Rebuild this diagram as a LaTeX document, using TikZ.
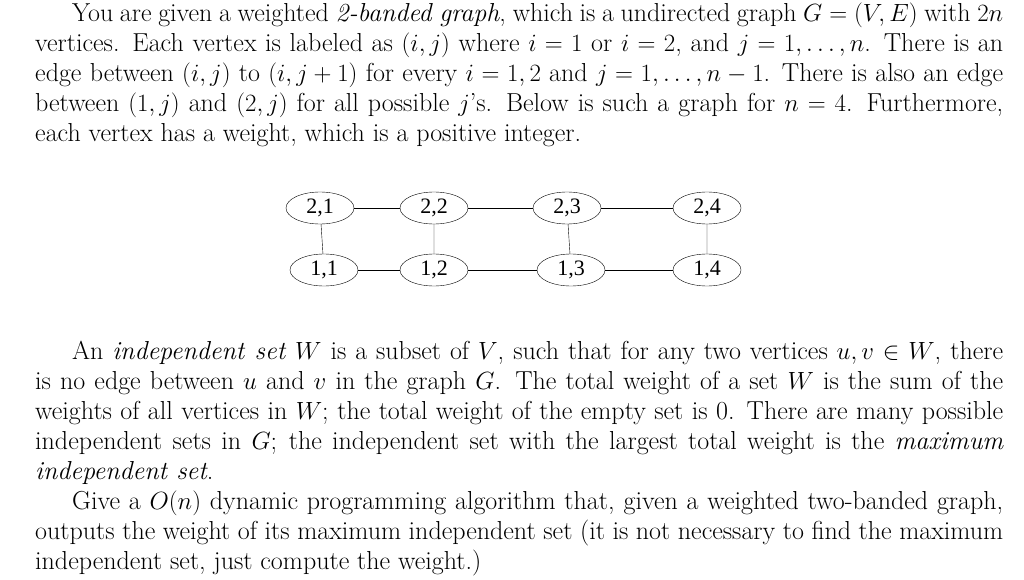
\documentclass[tikz,border=0pt]{standalone}
\usepackage{fontspec}
\newfontfamily\gfont{Liberation Serif}
\usetikzlibrary{shapes.geometric}
\begin{document}
\begin{tikzpicture}[x=1pt,y=1pt,
  vtx/.style={draw,ellipse,minimum width=68pt,minimum height=32pt,inner sep=0pt,font=\gfont\fontsize{22}{24}\selectfont},
  para/.style={anchor=north west,text width=968pt,inner sep=0pt,align=justify,font=\fontsize{26}{30}\selectfont}]
\useasboundingbox (0,0) rectangle (1024,-580);
\node[para] (p1) at (35,-3) {\hspace*{37pt}You are given a weighted \emph{2-banded graph}, which is a undirected graph $G=(V,E)$ with $2n$\linebreak vertices. Each vertex is labeled as $(i,j)$ where $i=1$ or $i=2$, and $j=1,\ldots,n$. There is an edge between $(i,j)$ to $(i,j+1)$ for every $i=1,2$ and $j=1,\ldots,n-1$. There is also an edge between $(1,j)$ and $(2,j)$ for all possible $j$'s. Below is such a graph for $n=4$. Furthermore, each vertex has a weight, which is a positive integer.};
\node[vtx] (a1) at (320,-208) {2,1};
\node[vtx] (a2) at (434,-208) {2,2};
\node[vtx] (a3) at (567,-208) {2,3};
\node[vtx] (a4) at (707,-208) {2,4};
\node[vtx] (b1) at (324,-270) {1,1};
\node[vtx] (b2) at (434,-270) {1,2};
\node[vtx] (b3) at (571,-270) {1,3};
\node[vtx] (b4) at (707,-270) {1,4};
\draw (a1)--(a2) (a2)--(a3) (a3)--(a4);
\draw (b1)--(b2) (b2)--(b3) (b3)--(b4);
\draw (a1)--(b1) (a2)--(b2) (a3)--(b3) (a4)--(b4);
\node[para] (p2) at (35,-341) {\hspace*{37pt}An \emph{independent set} $W$ is a subset of $V$, such that for any two vertices $u,v\in W$, there is no edge between $u$ and $v$ in the graph $G$. The total weight of a set $W$ is the sum of the weights of all vertices in $W$; the total weight of the empty set is 0. There are many possible independent sets in $G$; the independent set with the largest total weight is the \emph{maximum independent set}.\par
\hspace*{37pt}Give a $O(n)$ dynamic programming algorithm that, given a weighted two-banded graph, outputs the weight of its maximum independent set (it is not necessary to find the maximum independent set, just compute the weight.)};
\end{tikzpicture}
\end{document}
